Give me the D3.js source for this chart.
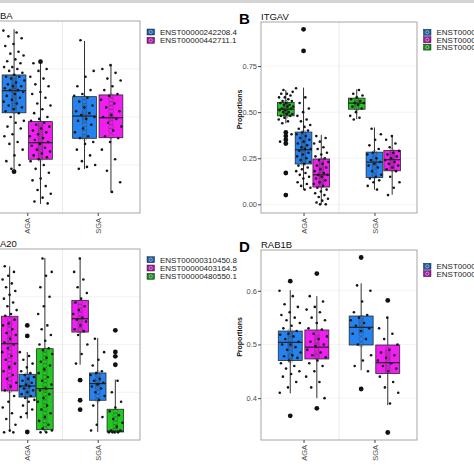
<!DOCTYPE html>
<html>
<head>
<meta charset="utf-8">
<script src="https://cdn.jsdelivr.net/npm/d3@7"></script>
<style>
  body { margin: 0; background: #fff; }
  svg { display: block; font-family: "Liberation Sans", Arial, sans-serif; }
</style>
</head>
<body>
<svg id="fig" width="474" height="474"></svg>
<script>
const groups = ["AGA", "SGA"];
const blue = "#2483ee", magenta = "#f01ef0", green = "#22c722";

// stats per [group][series]: [low whisker, q1, median, q3, high whisker]

// panel A (left edge cut off)
const seriesA = ["ENST00000242208.4", "ENST00000442711.1"];
const statsA = [
  [[0.224, 0.522, 0.637, 0.719, 0.957], [0.047, 0.28, 0.366, 0.476, 0.785]],
  [[0.229, 0.389, 0.505, 0.606, 0.896], [0.106, 0.392, 0.496, 0.615, 0.774]]
];
const outliersA = [[[0.215], [0.788]], [[], []]];
const pointsA = [
  [[0.95, 0.94, 0.92, 0.91, 0.88, 0.87, 0.84, 0.83, 0.82, 0.80, 0.79, 0.78, 0.76, 0.76, 0.75, 0.74, 0.73, 0.72, 0.71, 0.71,
    0.70, 0.69, 0.68, 0.67, 0.66, 0.66, 0.65, 0.64, 0.64, 0.63, 0.62, 0.61, 0.60, 0.59, 0.58, 0.57, 0.56, 0.55, 0.54, 0.53,
    0.52, 0.50, 0.48, 0.47, 0.45, 0.44, 0.41, 0.40, 0.37, 0.36, 0.33, 0.30, 0.27, 0.25, 0.23],
   [0.78, 0.75, 0.74, 0.71, 0.70, 0.67, 0.66, 0.63, 0.62, 0.60, 0.57, 0.56, 0.54, 0.52, 0.50, 0.49, 0.48, 0.47, 0.46, 0.45,
    0.44, 0.43, 0.42, 0.41, 0.40, 0.39, 0.38, 0.37, 0.36, 0.35, 0.34, 0.33, 0.32, 0.31, 0.30, 0.29, 0.28, 0.27, 0.25, 0.23,
    0.21, 0.18, 0.17, 0.14, 0.12, 0.10, 0.08, 0.06, 0.05]],
  [[0.90, 0.74, 0.71, 0.66, 0.64, 0.62, 0.61, 0.60, 0.58, 0.56, 0.55, 0.53, 0.52, 0.51, 0.50, 0.49, 0.48, 0.46, 0.44, 0.42,
    0.40, 0.39, 0.37, 0.36, 0.33, 0.30, 0.27, 0.25, 0.24, 0.23],
   [0.77, 0.75, 0.73, 0.70, 0.69, 0.66, 0.64, 0.62, 0.61, 0.59, 0.57, 0.55, 0.53, 0.51, 0.50, 0.49, 0.47, 0.45, 0.43, 0.40,
    0.39, 0.37, 0.33, 0.28, 0.22, 0.16, 0.11]]
];

// panel B, ITGAV
const seriesB = ["ENST00000261023.7", "ENST00000374907.7", "ENST00000433736.6"];
const statsB = [
  [[0.08, 0.219, 0.296, 0.392, 0.633], [0.0, 0.094, 0.16, 0.246, 0.377], [0.44, 0.48, 0.516, 0.552, 0.62]],
  [[0.08, 0.146, 0.229, 0.283, 0.417], [0.052, 0.182, 0.242, 0.292, 0.372], [0.462, 0.516, 0.549, 0.576, 0.624]]
];
const outliersB = [[[0.949, 0.832], [], [0.39, 0.37, 0.35, 0.33, 0.17, 0.05]], [[], [], []]];
const pointsB = [
  [[0.63, 0.58, 0.55, 0.52, 0.50, 0.48, 0.46, 0.45, 0.43, 0.42, 0.41, 0.40, 0.39, 0.38, 0.37, 0.36, 0.35, 0.34, 0.33, 0.32,
    0.31, 0.30, 0.30, 0.29, 0.28, 0.27, 0.26, 0.25, 0.24, 0.23, 0.22, 0.21, 0.20, 0.19, 0.18, 0.17, 0.16, 0.15, 0.14, 0.12,
    0.11, 0.10, 0.09, 0.08],
   [0.37, 0.36, 0.34, 0.33, 0.31, 0.30, 0.28, 0.27, 0.26, 0.25, 0.24, 0.23, 0.22, 0.21, 0.20, 0.19, 0.18, 0.17, 0.16, 0.16,
    0.15, 0.14, 0.13, 0.12, 0.11, 0.10, 0.09, 0.08, 0.07, 0.06, 0.05, 0.04, 0.03, 0.02, 0.01, 0.0, 0.0],
   [0.62, 0.61, 0.60, 0.60, 0.59, 0.58, 0.58, 0.57, 0.56, 0.56, 0.55, 0.55, 0.54, 0.54, 0.53, 0.53, 0.52, 0.52, 0.51, 0.51,
    0.50, 0.50, 0.49, 0.49, 0.48, 0.48, 0.47, 0.46, 0.45, 0.44, 0.38, 0.36, 0.34]],
  [[0.41, 0.38, 0.35, 0.32, 0.30, 0.28, 0.27, 0.25, 0.24, 0.23, 0.22, 0.21, 0.20, 0.18, 0.16, 0.15, 0.14, 0.13, 0.12, 0.10, 0.08],
   [0.37, 0.35, 0.33, 0.31, 0.29, 0.28, 0.27, 0.26, 0.25, 0.24, 0.23, 0.22, 0.21, 0.20, 0.19, 0.18, 0.15, 0.12, 0.09, 0.05],
   [0.62, 0.60, 0.59, 0.58, 0.57, 0.56, 0.55, 0.55, 0.54, 0.53, 0.52, 0.50, 0.48, 0.47, 0.46]]
];
const ticksB = [0, 0.25, 0.5, 0.75];

// panel C (left edge cut off)
const seriesC = ["ENST00000310450.8", "ENST00000403164.5", "ENST00000480550.1"];
const statsC = [
  [[0.112, 0.225, 0.283, 0.344, 0.461], [0.042, 0.257, 0.504, 0.648, 0.909], [0.042, 0.054, 0.269, 0.478, 0.953]],
  [[0.042, 0.208, 0.295, 0.351, 0.534], [0.394, 0.565, 0.635, 0.731, 0.953], [0.042, 0.042, 0.047, 0.161, 0.316]]
];
const outliersC = [[[0.60, 0.545, 0.042], [], []], [[], [0.313, 0.208, 0.159], [0.574, 0.461, 0.438, 0.394]]];
const pointsC = [
  [[0.46, 0.44, 0.42, 0.40, 0.38, 0.36, 0.35, 0.34, 0.33, 0.32, 0.31, 0.30, 0.29, 0.28, 0.28, 0.27, 0.26, 0.25, 0.24, 0.23,
    0.22, 0.21, 0.20, 0.18, 0.16, 0.14, 0.12],
   [0.91, 0.88, 0.86, 0.84, 0.82, 0.80, 0.78, 0.76, 0.74, 0.72, 0.70, 0.68, 0.66, 0.65, 0.63, 0.61, 0.60, 0.58, 0.56, 0.55,
    0.53, 0.51, 0.50, 0.48, 0.46, 0.44, 0.42, 0.40, 0.38, 0.36, 0.34, 0.32, 0.30, 0.28, 0.26, 0.23, 0.20, 0.17, 0.14, 0.11,
    0.08, 0.05, 0.04, 0.04],
   [0.95, 0.88, 0.86, 0.80, 0.75, 0.70, 0.66, 0.60, 0.58, 0.55, 0.52, 0.50, 0.48, 0.47, 0.45, 0.43, 0.41, 0.39, 0.37, 0.35,
    0.33, 0.31, 0.29, 0.27, 0.26, 0.24, 0.22, 0.20, 0.18, 0.16, 0.14, 0.12, 0.10, 0.08, 0.06, 0.05, 0.04, 0.04]],
  [[0.53, 0.46, 0.42, 0.39, 0.36, 0.35, 0.34, 0.32, 0.31, 0.30, 0.29, 0.28, 0.27, 0.25, 0.23, 0.21, 0.18, 0.12, 0.08, 0.05],
   [0.95, 0.88, 0.84, 0.80, 0.77, 0.74, 0.72, 0.70, 0.68, 0.66, 0.64, 0.63, 0.62, 0.60, 0.58, 0.57, 0.55, 0.50, 0.45, 0.40],
   [0.31, 0.25, 0.20, 0.17, 0.15, 0.13, 0.11, 0.09, 0.07, 0.05, 0.05, 0.04, 0.04, 0.04, 0.04]]
];

// panel D, RAB1B
const seriesD = ["ENST00000311481.11", "ENST00000393994.6"];
const statsD = [
  [[0.409, 0.470, 0.504, 0.525, 0.601], [0.400, 0.473, 0.495, 0.527, 0.590]],
  [[0.452, 0.499, 0.532, 0.553, 0.614], [0.387, 0.446, 0.466, 0.499, 0.548]]
];
const outliersD = [[[0.618, 0.367], [0.632, 0.381]], [[0.662, 0.417], [0.582, 0.336]]];
const pointsD = [
  [[0.60, 0.59, 0.575, 0.57, 0.56, 0.555, 0.55, 0.545, 0.54, 0.535, 0.53, 0.525, 0.52, 0.518, 0.515, 0.51, 0.505, 0.50,
    0.50, 0.495, 0.49, 0.485, 0.48, 0.478, 0.475, 0.47, 0.465, 0.46, 0.455, 0.45, 0.445, 0.44, 0.43, 0.42, 0.41],
   [0.59, 0.58, 0.57, 0.565, 0.56, 0.55, 0.545, 0.54, 0.53, 0.528, 0.52, 0.515, 0.51, 0.505, 0.50, 0.497, 0.49, 0.485,
    0.48, 0.476, 0.47, 0.465, 0.46, 0.45, 0.44, 0.43, 0.42, 0.40]],
  [[0.61, 0.60, 0.58, 0.56, 0.555, 0.55, 0.545, 0.54, 0.535, 0.53, 0.525, 0.52, 0.51, 0.50, 0.48, 0.47, 0.46, 0.45],
   [0.55, 0.53, 0.52, 0.51, 0.50, 0.49, 0.485, 0.48, 0.475, 0.47, 0.465, 0.46, 0.455, 0.45, 0.44, 0.43, 0.42, 0.41, 0.39]]
];
const ticksD = [0.4, 0.5, 0.6];

const svg = d3.select("#fig");
svg.append("rect").attr("x", 0).attr("y", 0).attr("width", 474).attr("height", 3).attr("fill", "#d4d4d4");

// slot order = left-to-right position of each series inside a group
var panels = [
  { title: "BA", names: seriesA, colors: [blue, magenta], order: [0, 1],
    stats: statsA, outliers: outliersA, points: pointsA, domain: [0, 1], grid: [0.25, 0.5, 0.75],
    x0: -15, x1: 140, y0: 21, y1: 213, legX: 147, legY: 32, legStep: 8.3 },
  { letter: "B", title: "ITGAV", names: seriesB, colors: [blue, magenta, green], order: [2, 0, 1],
    stats: statsB, outliers: outliersB, points: pointsB, domain: [-0.047, 0.989], ticks: ticksB, fmt: ".2f",
    x0: 261, x1: 417, y0: 22, y1: 213, legX: 423.5, legY: 32.3, legStep: 7.4 },
  { title: "A20", names: seriesC, colors: [blue, magenta, green], order: [1, 0, 2],
    stats: statsC, outliers: outliersC, points: pointsC, domain: [0, 1], grid: [0.25, 0.5, 0.75],
    x0: -15, x1: 140, y0: 249, y1: 440, legX: 147, legY: 259.7, legStep: 8.3 },
  { letter: "D", title: "RAB1B", names: seriesD, colors: [blue, magenta], order: [0, 1],
    stats: statsD, outliers: outliersD, points: pointsD, domain: [0.322, 0.676], ticks: ticksD, fmt: ".1f",
    x0: 261, x1: 417, y0: 250, y1: 440, legX: 423.5, legY: 266.3, legStep: 7.4 }
];

panels.forEach(function(p) {
  var g = svg.append("g");
  var x = d3.scalePoint().domain(groups).range([p.x0, p.x1]).padding(0.6);
  var y = d3.scaleLinear().domain(p.domain).range([p.y1, p.y0]);
  var n = p.order.length;
  var dodge = x.step() * 0.75 / n;
  var bw = dodge * (n == 2 ? 0.9 : 0.94);
  var jit = bw * 0.45;
  var grid = p.ticks || p.grid;

  // grid
  g.selectAll(".hg").data(grid).enter().append("line")
    .attr("x1", p.x0).attr("x2", p.x1)
    .attr("y1", function(d) { return y(d); }).attr("y2", function(d) { return y(d); })
    .attr("stroke", "#eeeeee").attr("stroke-width", 0.7);
  g.append("line")
    .attr("x1", (x("AGA") + x("SGA")) / 2).attr("x2", (x("AGA") + x("SGA")) / 2)
    .attr("y1", p.y0).attr("y2", p.y1)
    .attr("stroke", "#e6e6e6").attr("stroke-width", 0.8);

  groups.forEach(function(grp, gi) {
    p.order.forEach(function(si, slot) {
      var s = p.stats[gi][si];
      var cx = x(grp) + (slot - (n - 1) / 2) * dodge;
      var col = p.colors[si];
      var bg = g.append("g");
      // whiskers
      bg.append("line").attr("x1", cx).attr("x2", cx).attr("y1", y(s[0])).attr("y2", y(s[4]))
        .attr("stroke", "#1a1a1a").attr("stroke-width", 0.9);
      // box
      bg.append("rect").attr("x", cx - bw / 2).attr("width", bw)
        .attr("y", y(s[3])).attr("height", y(s[1]) - y(s[3]))
        .attr("fill", col).attr("stroke", "#2a2a2a").attr("stroke-width", 0.8);
      bg.append("line").attr("x1", cx - bw / 2).attr("x2", cx + bw / 2)
        .attr("y1", y(s[2])).attr("y2", y(s[2]))
        .attr("stroke", "#1a1a1a").attr("stroke-width", 1.1);
      var pts = p.points[gi][si];
      // open circles along the box centre
      bg.selectAll(".oc").data(pts.filter(function(v) { return v >= s[1] && v <= s[3]; }))
        .enter().append("circle")
        .attr("cx", cx).attr("cy", function(d) { return y(d); }).attr("r", 2.4)
        .attr("fill", "none").attr("stroke", "#333").attr("stroke-width", 0.5).attr("opacity", 0.6);
      // jittered points
      bg.selectAll(".jp").data(pts).enter().append("circle")
        .attr("cx", function(d, i) { return cx + (((i * 0.618034 + gi * 0.31 + si * 0.17) % 1) - 0.5) * 2 * jit; })
        .attr("cy", function(d) { return y(d); })
        .attr("r", 1.3).attr("fill", "#151515");
      // outliers
      bg.selectAll(".ol").data(p.outliers[gi][si]).enter().append("circle")
        .attr("cx", cx).attr("cy", function(d) { return y(d); })
        .attr("r", 2.4).attr("fill", "#111");
    });
  });

  // panel border
  g.append("rect").attr("x", p.x0).attr("y", p.y0)
    .attr("width", p.x1 - p.x0).attr("height", p.y1 - p.y0)
    .attr("fill", "none").attr("stroke", "#a6a6a6").attr("stroke-width", 1);

  // x axis
  var xa = g.append("g").attr("transform", "translate(0," + p.y1 + ")")
    .call(d3.axisBottom(x).tickSize(3));
  xa.select(".domain").remove();
  xa.selectAll("line").attr("stroke", "#444");
  xa.selectAll("text")
    .attr("transform", "rotate(-90)").attr("x", -5).attr("y", 0).attr("dy", "0.35em")
    .style("text-anchor", "end").style("font-size", "7.5px").attr("fill", "#4d4d4d");

  // y axis
  if (p.ticks) {
    var ya = g.append("g").attr("transform", "translate(" + p.x0 + ",0)")
      .call(d3.axisLeft(y).tickValues(p.ticks).tickSize(3).tickFormat(d3.format(p.fmt)));
    ya.select(".domain").remove();
    ya.selectAll("line").attr("stroke", "#444");
    ya.selectAll("text").style("font-size", "7.5px").attr("fill", "#4d4d4d").attr("x", -4);
    g.append("text")
      .attr("transform", "translate(" + (p.x0 - 19) + "," + ((p.y0 + p.y1) / 2 - 8) + ") rotate(-90)")
      .attr("text-anchor", "middle").style("font-size", "7px").style("font-weight", "bold")
      .attr("fill", "#111").text("Proportions");
  }

  // titles
  g.append("text").attr("x", Math.max(p.x0, 0)).attr("y", p.y0 - 2.5)
    .style("font-size", "9.5px").attr("fill", "#111").text(p.title);
  if (p.letter) {
    g.append("text").attr("x", p.x0 - 22).attr("y", p.y0 + 1.5)
      .style("font-size", "15px").style("font-weight", "bold").attr("fill", "#000").text(p.letter);
  }

  // legend
  var lg = g.append("g").attr("transform", "translate(" + p.legX + "," + p.legY + ")");
  p.names.forEach(function(name, i) {
    var row = lg.append("g").attr("transform", "translate(0," + (i * p.legStep) + ")");
    row.append("rect").attr("x", 0).attr("y", -3).attr("width", 7.5).attr("height", 6)
      .attr("fill", p.colors[i]).attr("stroke", "#333").attr("stroke-width", 0.5);
    row.append("rect").attr("x", 0).attr("y", -3).attr("width", 7.5).attr("height", 6)
      .attr("fill", "#000").attr("opacity", 0.3);
    row.append("circle").attr("cx", 3.75).attr("cy", 0).attr("r", 1.6)
      .attr("fill", "none").attr("stroke", "#ddd").attr("stroke-width", 0.6);
    row.append("text").attr("x", 13).attr("y", 0).attr("dy", "0.35em")
      .style("font-size", "8px").attr("fill", "#222").text(name);
  });
});
</script>
</body>
</html>
